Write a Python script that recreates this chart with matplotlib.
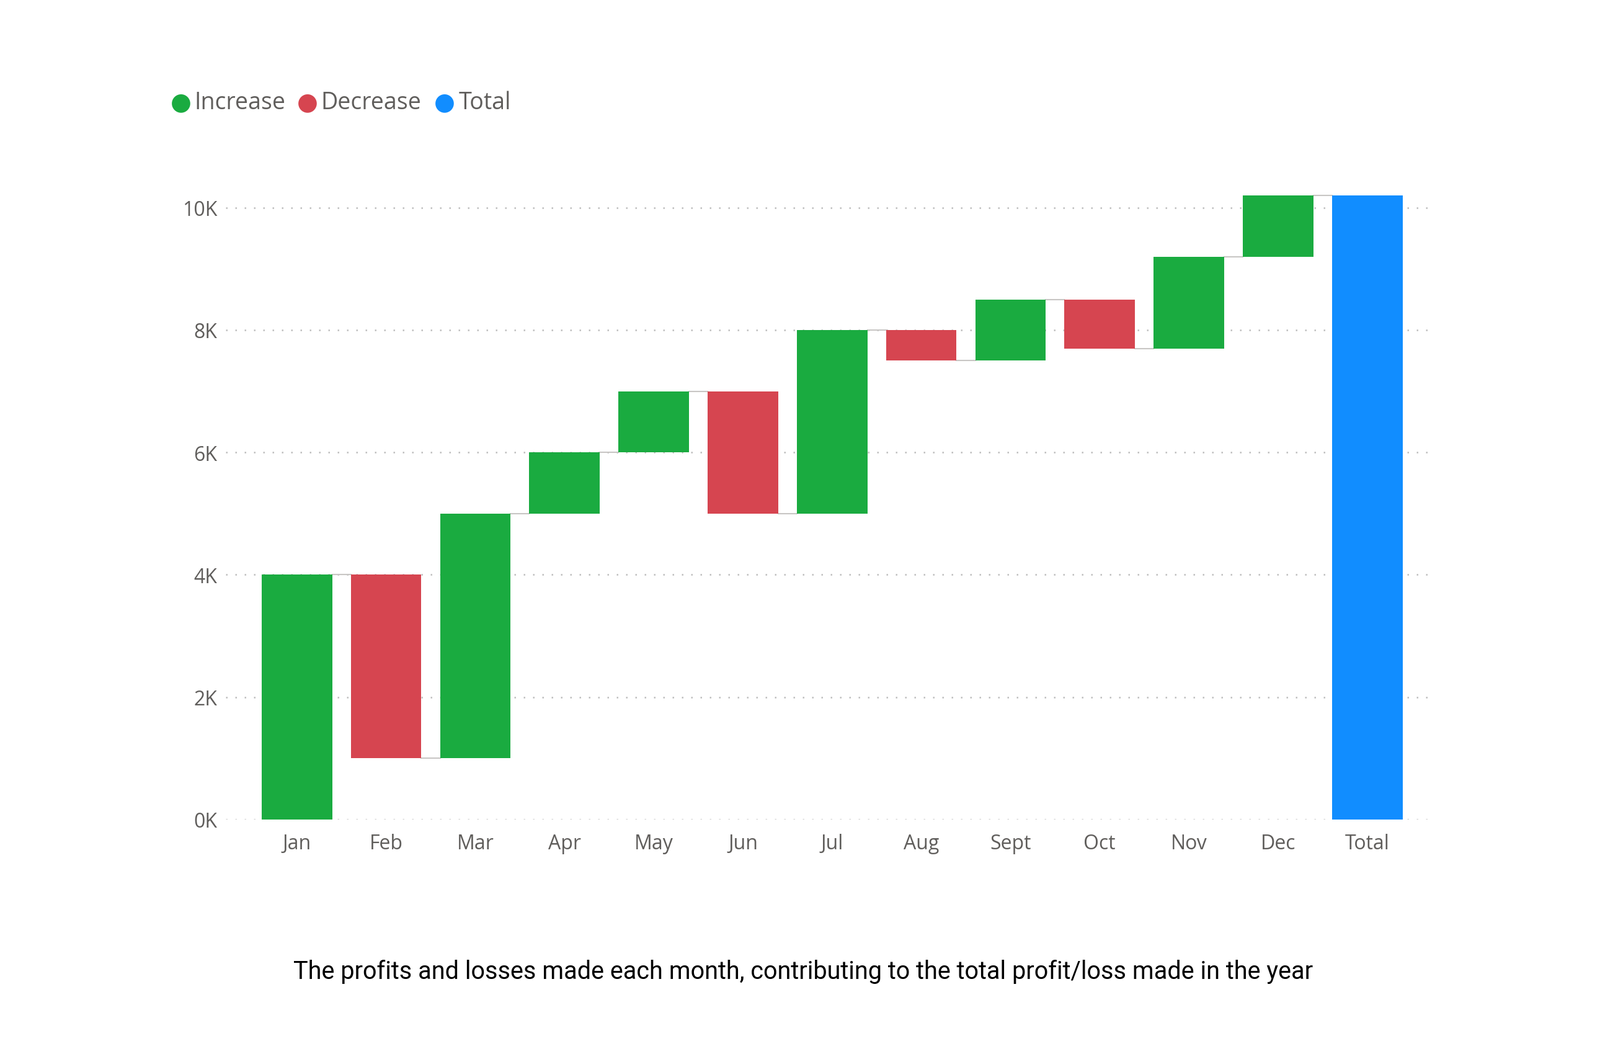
import matplotlib.pyplot as plt
import numpy as np

months = ["Jan", "Feb", "Mar", "Apr", "May", "Jun", "Jul", "Aug", "Sept", "Oct", "Nov", "Dec"]
changes = [4000, -3000, 4000, 1000, 1000, -2000, 3000, -500, 1000, -800, 1500, 1000]
yticks = [0, 2000, 4000, 6000, 8000, 10000]
ytick_labels = ["0K", "2K", "4K", "6K", "8K", "10K"]

green = "#1AAB40"
red = "#D64550"
blue = "#118DFF"
grey = "#605E5C"

ends = np.cumsum(changes)
starts = ends - np.array(changes)
total = ends[-1]

fig = plt.figure(figsize=(25.8, 17.08), dpi=100)
ax = fig.add_axes([0.141, 0.226, 0.752, 0.615])

for i, (s, c) in enumerate(zip(starts, changes)):
    ax.bar(i, c, bottom=s, width=0.79, color=green if c > 0 else red, zorder=3)
ax.bar(len(months), total, width=0.79, color=blue, zorder=3)

# connectors
for i, lv in enumerate(ends):
    ax.plot([i + 0.395, i + 1 - 0.395], [lv, lv], color="#C8C6C4", lw=1.5, zorder=2)

ax.set_xlim(-0.8, 12.69)
ax.set_ylim(0, 10650)
ax.set_yticks(yticks)
ax.set_yticklabels(ytick_labels)
ax.set_xticks(range(len(months) + 1))
ax.set_xticklabels(months + ["Total"])
for lab in ax.get_xticklabels() + ax.get_yticklabels():
    lab.set_fontfamily("Open Sans")
    lab.set_fontsize(23)
    lab.set_color(grey)
ax.tick_params(axis="x", length=0, pad=16)
ax.tick_params(axis="y", length=0, pad=10)
ax.grid(axis="y", linestyle=(0, (1, 5)), color="#BDBDBD", lw=1.8, zorder=0)
for sp in ax.spines.values():
    sp.set_visible(False)

# legend
items = [("Increase", green), ("Decrease", red), ("Total", blue)]
xpos = [0.113, 0.192, 0.278]
for (name, col), x in zip(items, xpos):
    fig.text(x, 0.903, "\u25CF", color=col, fontsize=28, va="center", ha="center")
    fig.text(x + 0.0085, 0.903, name, color=grey, fontsize=27, va="center", ha="left",
             fontfamily="Open Sans")

fig.text(0.502, 0.083, "The profits and losses made each month, contributing to the total profit/loss made in the year",
         ha="center", va="center", fontsize=28.5, fontfamily="Roboto", color="black")

fig.savefig("out.png", dpi=100)
